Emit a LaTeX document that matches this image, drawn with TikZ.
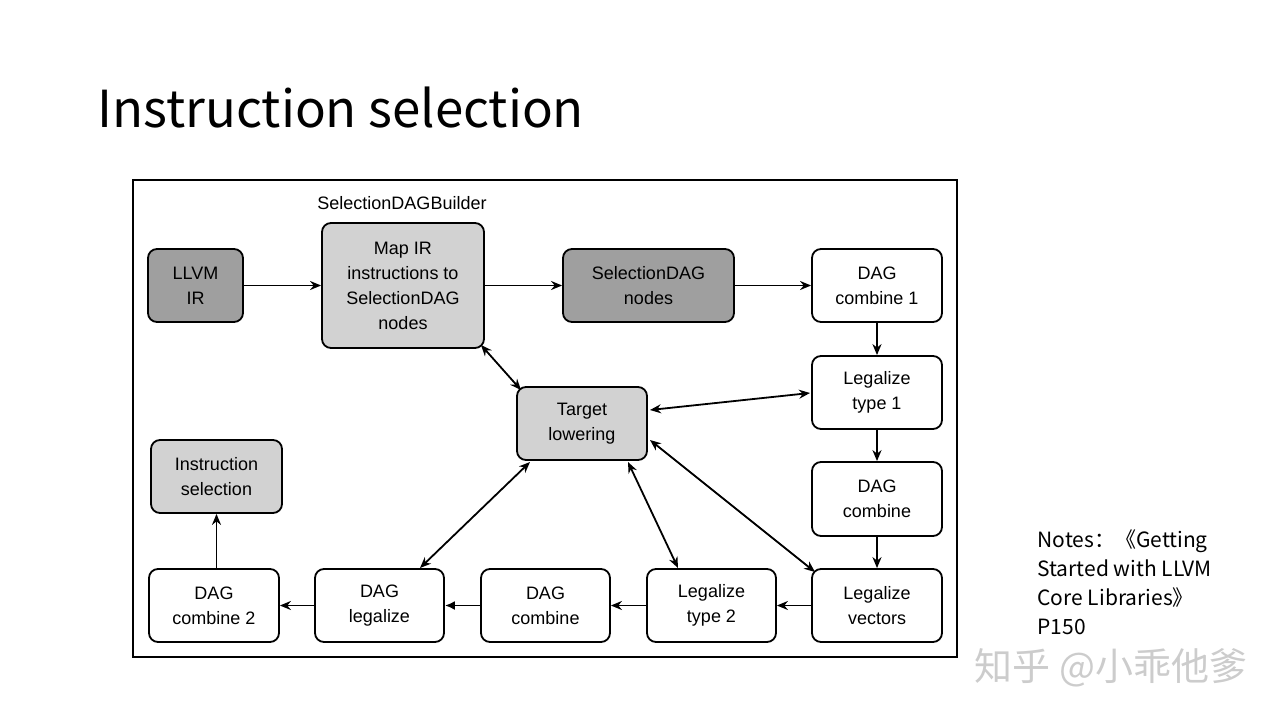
\documentclass[tikz,border=0pt]{standalone}
\usepackage{fontspec}
\setmainfont{Liberation Sans}
\newfontfamily\cjk{Noto Sans CJK SC}
\usetikzlibrary{arrows.meta}
\begin{document}
\begin{tikzpicture}[x=1pt,y=-1pt,
  box/.style={draw=black,line width=1.8pt,rounded corners=9pt,align=center,font=\fontsize{18}{25}\selectfont,inner sep=0pt},
  dark/.style={box,fill=gray!75},
  light/.style={box,fill=gray!35},
  white/.style={box,fill=white},
  arr/.style={-{Stealth[length=11pt,width=9pt]},line width=1.8pt},
  darr/.style={{Stealth[length=11pt,width=9pt]}-{Stealth[length=11pt,width=9pt]},line width=1.8pt}]
\useasboundingbox (0,0) rectangle (1280,720);
\node[anchor=west,font=\cjk\fontsize{51}{56}\selectfont] (title) at (94,108) {Instruction selection};
\draw[line width=1.5pt] (133,180) rectangle (957,657);
\node[font=\fontsize{18}{22}\selectfont] (sdb) at (402,203) {SelectionDAGBuilder};
\def\bx#1#2#3#4#5#6#7{\node[#2,minimum width=#5-#3 pt,minimum height=#6-#4 pt] (#1) at ({(#3+#5)/2},{(#4+#6)/2}) {#7};}
\bx{llvm}{dark}{148}{249}{243}{322}{LLVM\\IR}
\bx{map}{light}{322}{223}{484}{348}{Map IR\\instructions to\\SelectionDAG\\nodes}
\bx{sdag}{dark}{563}{249}{734}{322}{SelectionDAG\\nodes}
\bx{dc1}{white}{812}{249}{942}{322}{DAG\\combine 1}
\bx{lt1}{white}{812}{356}{942}{429}{Legalize\\type 1}
\bx{dcr}{white}{812}{462}{942}{536}{DAG\\combine}
\bx{lv}{white}{812}{569}{942}{642}{Legalize\\vectors}
\bx{lt2}{white}{647}{569}{776}{642}{Legalize\\type 2}
\bx{dcb}{white}{481}{569}{610}{642}{DAG\\combine}
\bx{dl}{white}{315}{569}{444}{642}{DAG\\legalize}
\bx{dc2}{white}{149}{569}{279}{642}{DAG\\combine 2}
\bx{is}{light}{151}{440}{282}{513}{Instruction\\selection}
\bx{tl}{light}{517}{387}{647}{460}{Target\\lowering}
\draw[arr] (llvm) -- (map);
\draw[arr] (map.east|-sdag) -- (sdag);
\draw[arr] (sdag) -- (dc1);
\draw[arr] (dc1) -- (lt1);
\draw[arr] (lt1) -- (dcr);
\draw[arr] (dcr) -- (lv);
\draw[arr] (lv) -- (lt2);
\draw[arr] (lt2) -- (dcb);
\draw[-{Latex[length=10pt,width=9pt]},line width=1.8pt] (dcb) -- (dl);
\draw[arr] (dl) -- (dc2);
\draw[arr] (dc2.north-|is) -- (is);
\draw[darr] (481,345) -- (521,390);
\draw[darr] (650,410) -- (810,393);
\draw[darr] (530,462) -- (420,568);
\draw[darr] (628,462) -- (678,568);
\draw[darr] (650,440) -- (815,572);
\node[anchor=north west,align=left,font=\cjk\fontsize{21}{29}\selectfont] (notes) at (1034,526) {Notes：《Getting\\Started with LLVM\\Core Libraries》\\P150};
\node[font=\cjk\fontsize{38}{40}\selectfont,text=gray!40] (wm) at (1111,668) {知乎 @小乖他爹};
\end{tikzpicture}
\end{document}
